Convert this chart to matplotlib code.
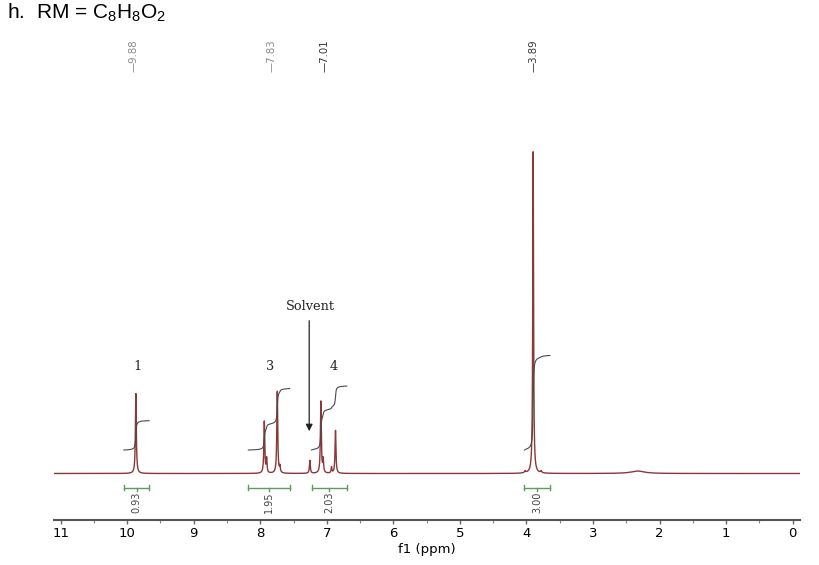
import numpy as np
import matplotlib
matplotlib.use('Agg')
import matplotlib.pyplot as plt

plt.rcParams['mathtext.default'] = 'regular'

# peaks (ppm, height in px above baseline, half width in ppm)
peak_ppm = [9.87, 7.94, 7.905, 7.745, 7.705, 7.255, 7.09, 7.055, 6.93, 6.87, 4.02, 3.90, 3.78, 2.33]
peak_height = [80, 52, 14, 82, 6, 13, 72, 13, 6, 43, 2, 323, 2, 2.5]
peak_hw = [0.008, 0.008, 0.007, 0.008, 0.007, 0.008, 0.008, 0.007, 0.007, 0.008, 0.01, 0.007, 0.01, 0.12]
baseline = 46.5

# integrations (ppm from, ppm to, value)
int_from = [10.05, 8.18, 7.23, 4.03]
int_to = [9.67, 7.56, 6.70, 3.65]
int_value = ['0.93', '1.95', '2.03', '3.00']

# peak picking labels on top
shift_labels = ['9.88', '7.83', '7.01', '3.89']
shift_pos = [9.91, 7.83, 7.03, 3.90]
shift_color = ['#8a8a8a', '#8a8a8a', '#333333', '#333333']

group_labels = ['1', '3', '4']
group_pos = [9.84, 7.85, 6.90]

ppm = np.linspace(11.3, -0.3, 12000)
spec = np.full_like(ppm, baseline)
for p, h, w in zip(peak_ppm, peak_height, peak_hw):
    spec += h / (1 + ((ppm - p) / w) ** 2)

fig = plt.figure(figsize=(8.19, 5.65), dpi=100)
ax = fig.add_axes([54 / 819, 45 / 565, 746 / 819, 490 / 565])
ax.plot(ppm, spec, color='#8a3838', lw=1.0)

# integral curves and brackets
for a, b, v in zip(int_from, int_to, int_value):
    m = (ppm <= a) & (ppm >= b)
    seg = spec[m] - baseline
    cum = np.cumsum(seg)
    cum = cum / cum[-1]
    ax.plot(ppm[m], 70 + cum * 31.5 * float(v), color='#4a4a4a', lw=0.8)
    yb = 32.5
    ax.plot([a, b], [yb, yb], color='#5c9c5c', lw=1.0)
    ax.plot([a, a], [yb - 2.5, yb + 2.5], color='#5c9c5c', lw=1.0)
    ax.plot([b, b], [yb - 2.5, yb + 2.5], color='#5c9c5c', lw=1.0)
    c = (a + b) / 2
    ax.plot([c, c], [yb, yb - 3], color='#5c9c5c', lw=1.0)
    ax.text(c, yb - 4, v, rotation=90, ha='center', va='top', fontsize=7, color='#444444')

for t, p, col in zip(shift_labels, shift_pos, shift_color):
    ax.text(p, 448, '\u2014' + t, rotation=90, ha='center', va='bottom', fontsize=7.3, color=col)

for t, p in zip(group_labels, group_pos):
    ax.text(p, 153, t, ha='center', va='center', fontsize=9.3, family='DejaVu Serif', color='#222222')

ax.text(7.24, 213, 'Solvent', ha='center', va='center', fontsize=9.3, family='DejaVu Serif', color='#222222')
ax.annotate('', xy=(7.265, 86), xytext=(7.265, 202),
            arrowprops=dict(arrowstyle='-|>', color='#222222', lw=0.9, mutation_scale=10))

ax.set_xlim(11.10, -0.11)
ax.set_ylim(0, 490)
ax.set_xticks(range(0, 12))
ax.set_xticks(np.arange(0, 11.5, 0.5), minor=True)
ax.tick_params(axis='x', direction='out', length=3, width=1, color='#666666', labelsize=9.5, pad=2)
ax.tick_params(axis='x', which='minor', length=2, width=0.8, color='#888888')
ax.set_yticks([])
for s in ['top', 'right', 'left']:
    ax.spines[s].set_visible(False)
ax.spines['bottom'].set_color('#555555')
ax.spines['bottom'].set_linewidth(1.5)
ax.set_xlabel('f1 (ppm)', fontsize=9.5, labelpad=2)

fig.text(7 / 819, 1 - 18.5 / 565, 'h.  RM = C$_8$H$_8$O$_2$', fontsize=15,
         family='Liberation Sans', va='baseline', ha='left')

fig.savefig('out.png', dpi=100)
